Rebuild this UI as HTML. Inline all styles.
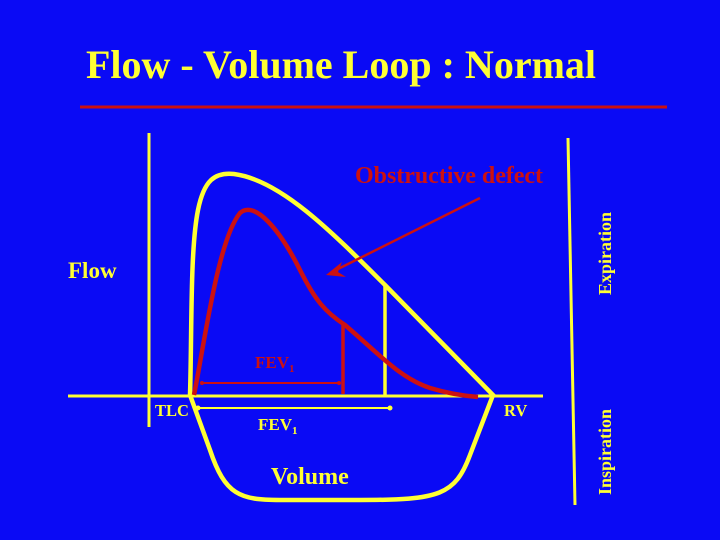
<!DOCTYPE html>
<html><head><style>
body{margin:0;width:720px;height:540px;background:#0a0af5;overflow:hidden;}
svg{display:block}
</style></head><body>
<svg width="720" height="540" xmlns="http://www.w3.org/2000/svg" font-family="Liberation Serif, serif" font-weight="bold">
<rect width="720" height="540" fill="#0a0af5"/>
<text x="341" y="78" font-size="40" fill="#ffff33" text-anchor="middle">Flow - Volume Loop : Normal</text>
<line x1="80" y1="107" x2="667" y2="107" stroke="#cc1111" stroke-width="3"/>
<line x1="149" y1="133" x2="149" y2="427" stroke="#ffff33" stroke-width="3"/>
<line x1="68" y1="396" x2="543" y2="396" stroke="#ffff33" stroke-width="3"/>
<line x1="568" y1="138" x2="575" y2="505" stroke="#ffff33" stroke-width="3"/>
<path d="M190,395 C192,330 190,250 198,210 C204,180 215,172 234,174 C280,180 330,230 385,285 L493,395 L470,455 C455,495 440,500 360,500 L280,500 C240,500 225,495 210,450 L190,395" fill="none" stroke="#ffff33" stroke-width="4.5"/>
<line x1="385" y1="285" x2="385" y2="395" stroke="#ffff33" stroke-width="3.5"/>
<path d="M194,395 C205,340 218,240 240,213 C255,200 280,230 300,270 C315,300 325,312 345,325 C380,355 400,378 430,388 C450,394 465,396 478,397" fill="none" stroke="#cc1111" stroke-width="4.5"/>
<line x1="343" y1="322" x2="343" y2="394" stroke="#cc1111" stroke-width="3.5"/>
<line x1="202" y1="383" x2="339" y2="383" stroke="#cc1111" stroke-width="2"/>
<circle cx="202" cy="383" r="2" fill="#cc1111"/><circle cx="339" cy="383" r="2" fill="#cc1111"/>
<line x1="198" y1="408" x2="390" y2="408" stroke="#ffff33" stroke-width="2"/>
<circle cx="198" cy="408" r="2.5" fill="#ffff33"/><circle cx="390" cy="408" r="2.5" fill="#ffff33"/>
<line x1="480" y1="198" x2="332" y2="272" stroke="#cc1111" stroke-width="2.5"/>
<path d="M326,275 L342,262 L338,272 L346,277 Z" fill="#cc1111"/>
<text x="355" y="183" font-size="24" fill="#cc1111" textLength="188">Obstructive defect</text>
<text x="68" y="278" font-size="23" fill="#ffff33">Flow</text>
<text x="255" y="368" font-size="17" fill="#cc1111">FEV<tspan font-size="11" dy="4">1</tspan></text>
<text x="155" y="416" font-size="16.5" fill="#ffff33">TLC</text>
<text x="504" y="416" font-size="16.5" fill="#ffff33">RV</text>
<text x="258" y="430" font-size="17" fill="#ffff33">FEV<tspan font-size="11" dy="4">1</tspan></text>
<text x="271" y="484" font-size="24" fill="#ffff33">Volume</text>
<text transform="translate(611,295) rotate(-90)" font-size="18" fill="#ffff33">Expiration</text>
<text transform="translate(611,495) rotate(-90)" font-size="18" fill="#ffff33">Inspiration</text>
</svg>
</body></html>
